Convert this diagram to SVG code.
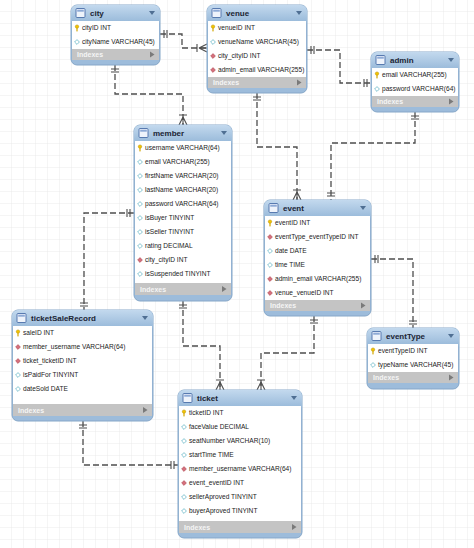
<svg xmlns="http://www.w3.org/2000/svg" xmlns:xlink="http://www.w3.org/1999/xlink" width="474" height="548" viewBox="0 0 474 548">
<defs>
<pattern id="grid" width="12" height="12" patternUnits="userSpaceOnUse">
<path d="M12,0 V12 M0,12 H12" fill="none" stroke="#e6e6e6" stroke-width="0.8"/>
</pattern>
<linearGradient id="hg" x1="0" y1="0" x2="0" y2="1">
<stop offset="0" stop-color="#c3d9ee"/>
<stop offset="1" stop-color="#8db1d4"/>
</linearGradient>
<g id="ti"><rect x="0" y="0" width="9" height="9" rx="1" fill="#eef3fb" stroke="#4a6ea8" stroke-width="0.9"/><rect x="1.2" y="1.2" width="6.6" height="2" fill="#8eaad6"/></g>
<path id="dn" d="M-3,-2 H3 L0,2Z" fill="#4f6f93"/>
<path id="ri" d="M-2,-3 V3 L2.5,0Z" fill="#7a7a7a"/>
<g id="key"><circle cx="0" cy="-1.4" r="1.7" fill="#f4c400" stroke="#b58f00" stroke-width="0.5"/><rect x="-0.6" y="0" width="1.2" height="3.4" fill="#d2a600"/></g>
<path id="col" d="M0,-2.4 L2.4,0 L0,2.4 L-2.4,0Z" fill="#ffffff" stroke="#66b6c6" stroke-width="0.8"/>
<path id="fk" d="M0,-2.4 L2.4,0 L0,2.4 L-2.4,0Z" fill="#d66f7b" stroke="#ad4b57" stroke-width="0.6"/>
</defs>
<style>
.nb{fill:#9dbcdb;stroke:#86a7c8;stroke-width:1}
.hd{fill:url(#hg)}
.wh{fill:#ffffff}
.ix{fill:#c4c4c4}
.tt{font-family:"Liberation Sans",Arial,sans-serif;font-weight:bold;font-size:8px;fill:#1b2433}
.rt{font-family:"Liberation Sans",Arial,sans-serif;font-size:6.6px;fill:#222222}
.it{font-family:"Liberation Sans",Arial,sans-serif;font-weight:bold;font-size:7px;fill:#f5f5f5}
.cn{fill:none;stroke:#4d4d4d;stroke-width:1.3;stroke-dasharray:6 3}
.mk{fill:none;stroke:#4d4d4d;stroke-width:1.1}
</style>
<rect width="474" height="548" fill="#ffffff"/>
<rect width="474" height="548" fill="url(#grid)"/>

<g id="connectors">
<path class="cn" d="M160,34 H182 V48 H207"/>
<path class="mk" d="M164,30 V38 M167,30 V38 M197,44 V52 M199,48 L207,44 M199,48 L207,52 M199,48 H207"/>
<path class="cn" d="M115,65 V94 H183 V125"/>
<path class="mk" d="M111,69 H119 M111,72 H119 M179,115 H187 M183,117 L179,125 M183,117 L187,125 M183,117 V125"/>
<path class="cn" d="M257,93 V147 H297 V200"/>
<path class="mk" d="M253,97 H261 M253,100 H261 M293,190 H301 M297,192 L293,200 M297,192 L301,200 M297,192 V200"/>
<path class="cn" d="M307,50 H340 V83 H371"/>
<path class="mk" d="M311,46 V54 M314,46 V54 M367,79 V87 M364,79 V87"/>
<path class="cn" d="M415,112 V143 H331 V200"/>
<path class="mk" d="M411,116 H419 M411,119 H419 M327,196 H335 M327,193 H335"/>
<path class="cn" d="M371,259 H413 V328"/>
<path class="mk" d="M375,255 V263 M378,255 V263 M409,324 H417 M409,321 H417"/>
<path class="cn" d="M183,301 V346 H220 V390"/>
<path class="mk" d="M179,305 H187 M179,308 H187 M216,380 H224 M220,382 L216,390 M220,382 L224,390 M220,382 V390"/>
<path class="cn" d="M314,316 V353 H261 V390"/>
<path class="mk" d="M310,320 H318 M310,323 H318 M257,380 H265 M261,382 L257,390 M261,382 L265,390 M261,382 V390"/>
<path class="cn" d="M134,213 H84 V310"/>
<path class="mk" d="M130,209 V217 M127,209 V217 M80,306 H88 M80,303 H88"/>
<path class="cn" d="M83,421 V465 H178"/>
<path class="mk" d="M79,425 H87 M79,428 H87 M174,461 V469 M171,461 V469"/>
</g>

<g id="city">
<rect class="nb" x="71" y="5" width="89" height="60" rx="6"/>
<rect class="hd" x="71" y="5" width="89" height="22" rx="6"/>
<rect class="wh" x="72" y="21" width="87" height="28"/>
<rect class="ix" x="72" y="49" width="87" height="11"/>
<use href="#ti" x="76" y="8.5"/>
<text class="tt" x="90" y="16">city</text>
<use href="#dn" x="152" y="13"/>
<use href="#key" x="77" y="28"/><text class="rt" x="82" y="30.3">cityID INT</text>
<use href="#col" x="77" y="42"/><text class="rt" x="82" y="44.3">cityName VARCHAR(45)</text>
<text class="it" x="77" y="57">Indexes</text><use href="#ri" x="152" y="54.5"/>
</g>

<g id="venue">
<rect class="nb" x="207" y="5" width="100" height="88" rx="6"/>
<rect class="hd" x="207" y="5" width="100" height="22" rx="6"/>
<rect class="wh" x="208" y="21" width="98" height="56"/>
<rect class="ix" x="208" y="77" width="98" height="11"/>
<use href="#ti" x="212" y="8.5"/>
<text class="tt" x="226" y="16">venue</text>
<use href="#dn" x="299" y="13"/>
<use href="#key" x="213" y="28"/><text class="rt" x="218" y="30.3">venueID INT</text>
<use href="#col" x="213" y="42"/><text class="rt" x="218" y="44.3">venueName VARCHAR(45)</text>
<use href="#fk" x="213" y="56"/><text class="rt" x="218" y="58.3">city_cityID INT</text>
<use href="#fk" x="213" y="70"/><text class="rt" x="218" y="72.3">admin_email VARCHAR(255)</text>
<text class="it" x="213" y="85">Indexes</text><use href="#ri" x="299" y="82.5"/>
</g>

<g id="admin">
<rect class="nb" x="371" y="52" width="88" height="60" rx="6"/>
<rect class="hd" x="371" y="52" width="88" height="22" rx="6"/>
<rect class="wh" x="372" y="68" width="86" height="28"/>
<rect class="ix" x="372" y="96" width="86" height="11"/>
<use href="#ti" x="376" y="55.5"/>
<text class="tt" x="390" y="63">admin</text>
<use href="#dn" x="451" y="60"/>
<use href="#key" x="377" y="75"/><text class="rt" x="382" y="77.3">email VARCHAR(255)</text>
<use href="#col" x="377" y="89"/><text class="rt" x="382" y="91.3">password VARCHAR(64)</text>
<text class="it" x="377" y="104">Indexes</text><use href="#ri" x="451" y="101.5"/>
</g>

<g id="member">
<rect class="nb" x="134" y="125" width="98" height="176" rx="6"/>
<rect class="hd" x="134" y="125" width="98" height="22" rx="6"/>
<rect class="wh" x="135" y="141" width="96" height="142"/>
<rect class="ix" x="135" y="283" width="96" height="12"/>
<use href="#ti" x="139" y="128.5"/>
<text class="tt" x="153" y="136">member</text>
<use href="#dn" x="224" y="133"/>
<use href="#key" x="140" y="148"/><text class="rt" x="145" y="150.3">username VARCHAR(64)</text>
<use href="#col" x="140" y="162"/><text class="rt" x="145" y="164.3">email VARCHAR(255)</text>
<use href="#col" x="140" y="176"/><text class="rt" x="145" y="178.3">firstName VARCHAR(20)</text>
<use href="#col" x="140" y="190"/><text class="rt" x="145" y="192.3">lastName VARCHAR(20)</text>
<use href="#col" x="140" y="204"/><text class="rt" x="145" y="206.3">password VARCHAR(64)</text>
<use href="#col" x="140" y="218"/><text class="rt" x="145" y="220.3">isBuyer TINYINT</text>
<use href="#col" x="140" y="232"/><text class="rt" x="145" y="234.3">isSeller TINYINT</text>
<use href="#col" x="140" y="246"/><text class="rt" x="145" y="248.3">rating DECIMAL</text>
<use href="#fk" x="140" y="260"/><text class="rt" x="145" y="262.3">city_cityID INT</text>
<use href="#col" x="140" y="274"/><text class="rt" x="145" y="276.3">isSuspended TINYINT</text>
<text class="it" x="140" y="291.5">Indexes</text><use href="#ri" x="224" y="289"/>
</g>

<g id="event">
<rect class="nb" x="264" y="200" width="107" height="116" rx="6"/>
<rect class="hd" x="264" y="200" width="107" height="22" rx="6"/>
<rect class="wh" x="265" y="216" width="105" height="84"/>
<rect class="ix" x="265" y="300" width="105" height="11"/>
<use href="#ti" x="269" y="203.5"/>
<text class="tt" x="283" y="211">event</text>
<use href="#dn" x="363" y="208"/>
<use href="#key" x="270" y="223"/><text class="rt" x="275" y="225.3">eventID INT</text>
<use href="#fk" x="270" y="237"/><text class="rt" x="275" y="239.3">eventType_eventTypeID INT</text>
<use href="#col" x="270" y="251"/><text class="rt" x="275" y="253.3">date DATE</text>
<use href="#col" x="270" y="265"/><text class="rt" x="275" y="267.3">time TIME</text>
<use href="#fk" x="270" y="279"/><text class="rt" x="275" y="281.3">admin_email VARCHAR(255)</text>
<use href="#fk" x="270" y="293"/><text class="rt" x="275" y="295.3">venue_venueID INT</text>
<text class="it" x="270" y="308">Indexes</text><use href="#ri" x="363" y="305.5"/>
</g>

<g id="ticketSaleRecord">
<rect class="nb" x="12" y="310" width="141" height="111" rx="6"/>
<rect class="hd" x="12" y="310" width="141" height="22" rx="6"/>
<rect class="wh" x="13" y="326" width="139" height="78"/>
<rect class="ix" x="13" y="404" width="139" height="12"/>
<use href="#ti" x="17" y="313.5"/>
<text class="tt" x="31" y="321">ticketSaleRecord</text>
<use href="#dn" x="145" y="318"/>
<use href="#key" x="18" y="333"/><text class="rt" x="23" y="335.3">saleID INT</text>
<use href="#fk" x="18" y="347"/><text class="rt" x="23" y="349.3">member_username VARCHAR(64)</text>
<use href="#fk" x="18" y="361"/><text class="rt" x="23" y="363.3">ticket_ticketID INT</text>
<use href="#col" x="18" y="375"/><text class="rt" x="23" y="377.3">isPaidFor TINYINT</text>
<use href="#col" x="18" y="389"/><text class="rt" x="23" y="391.3">dateSold DATE</text>
<text class="it" x="18" y="412.5">Indexes</text><use href="#ri" x="145" y="410"/>
</g>

<g id="eventType">
<rect class="nb" x="367" y="328" width="92" height="61" rx="6"/>
<rect class="hd" x="367" y="328" width="92" height="22" rx="6"/>
<rect class="wh" x="368" y="344" width="90" height="28"/>
<rect class="ix" x="368" y="372" width="90" height="11"/>
<use href="#ti" x="372" y="331.5"/>
<text class="tt" x="386" y="339">eventType</text>
<use href="#dn" x="451" y="336"/>
<use href="#key" x="373" y="351"/><text class="rt" x="378" y="353.3">eventTypeID INT</text>
<use href="#col" x="373" y="365"/><text class="rt" x="378" y="367.3">typeName VARCHAR(45)</text>
<text class="it" x="373" y="380">Indexes</text><use href="#ri" x="451" y="377.5"/>
</g>

<g id="ticket">
<rect class="nb" x="178" y="390" width="124" height="148" rx="6"/>
<rect class="hd" x="178" y="390" width="124" height="22" rx="6"/>
<rect class="wh" x="179" y="406" width="122" height="115"/>
<rect class="ix" x="179" y="521" width="122" height="12"/>
<use href="#ti" x="183" y="393.5"/>
<text class="tt" x="197" y="401">ticket</text>
<use href="#dn" x="294" y="398"/>
<use href="#key" x="184" y="413"/><text class="rt" x="189" y="415.3">ticketID INT</text>
<use href="#col" x="184" y="427"/><text class="rt" x="189" y="429.3">faceValue DECIMAL</text>
<use href="#col" x="184" y="441"/><text class="rt" x="189" y="443.3">seatNumber VARCHAR(10)</text>
<use href="#col" x="184" y="455"/><text class="rt" x="189" y="457.3">startTime TIME</text>
<use href="#fk" x="184" y="469"/><text class="rt" x="189" y="471.3">member_username VARCHAR(64)</text>
<use href="#fk" x="184" y="483"/><text class="rt" x="189" y="485.3">event_eventID INT</text>
<use href="#col" x="184" y="497"/><text class="rt" x="189" y="499.3">sellerAproved TINYINT</text>
<use href="#col" x="184" y="511"/><text class="rt" x="189" y="513.3">buyerAproved TINYINT</text>
<text class="it" x="184" y="529.5">Indexes</text><use href="#ri" x="294" y="527"/>
</g>
</svg>
